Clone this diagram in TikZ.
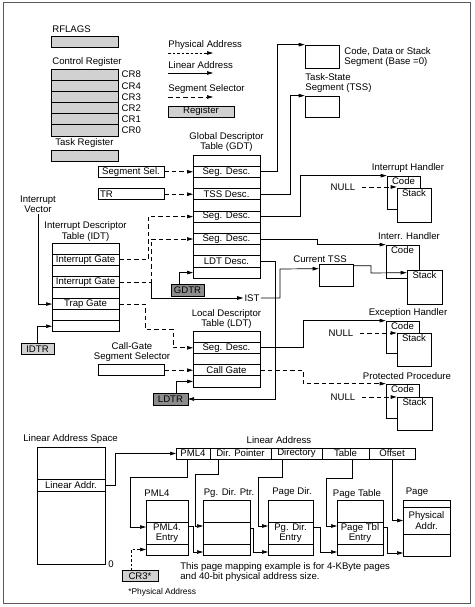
\documentclass[tikz,border=0pt]{standalone}
\usepackage{fontspec}
\setmainfont{Liberation Sans}
\usetikzlibrary{arrows.meta}

\begin{document}
\begin{tikzpicture}[x=1pt, y=-1pt, line width=0.7pt, font=\fontsize{9.6}{10.5}\selectfont,
    text node/.style={inner sep=1pt, align=center},
    row node/.style={draw, minimum width=67pt, minimum height=11.2pt, inner sep=0pt, outer sep=0pt},
    reg node/.style={draw, fill=black!18, minimum height=11pt, inner sep=0pt, outer sep=0pt},
    dark reg node/.style={draw, fill=black!45, minimum height=12pt, inner sep=0pt, outer sep=0pt},
    sel node/.style={draw, minimum width=66pt, minimum height=11pt, inner sep=0pt, outer sep=0pt},
    code node/.style={draw, fill=white, minimum width=33pt, minimum height=33pt, inner sep=0pt},
    page node/.style={draw, inner sep=0pt, outer sep=0pt, align=center},
    lin arrow/.style={-{Triangle[length=6pt,width=3.5pt]}},
    sel arrow/.style={lin arrow, dash pattern=on 4.5pt off 3pt},
    phys arrow/.style={lin arrow, dash pattern=on 2.5pt off 2pt}]
\useasboundingbox (0,0) rectangle (474,607);
\draw[black!65, line width=1pt] (3,3) rectangle (470,603);

\node[text node, anchor=west] (rflagst) at (51,29) {RFLAGS};
\node[reg node, minimum width=67pt] (rflags) at (84.5,41.5) {};
\node[text node, anchor=west] (crt) at (51,62) {Control Register};
\node[reg node, minimum width=67pt, minimum height=11.17pt, label=right:CR8] (cr8) at (84.5,74.6) {};
\node[reg node, minimum width=67pt, minimum height=11.17pt, label=right:CR4] (cr4) at (84.5,85.75) {};
\node[reg node, minimum width=67pt, minimum height=11.17pt, label=right:CR3] (cr3) at (84.5,96.9) {};
\node[reg node, minimum width=67pt, minimum height=11.17pt, label=right:CR2] (cr2) at (84.5,108.1) {};
\node[reg node, minimum width=67pt, minimum height=11.17pt, label=right:CR1] (cr1) at (84.5,119.25) {};
\node[reg node, minimum width=67pt, minimum height=11.17pt, label=right:CR0] (cr0) at (84.5,130.4) {};
\node[text node, anchor=west] (trt) at (54,143) {Task Register};
\node[reg node, minimum width=67pt] (treg) at (84.5,155.5) {};

\node[text node, anchor=west] (physt) at (167,45) {Physical Address};
\coordinate (phys a) at (168,53);
\coordinate (phys b) at (213,53);
\draw[phys arrow] (phys a) -- (phys b);
\node[text node, anchor=west] (lint) at (167,65) {Linear Address};
\coordinate (lin a) at (168,73);
\coordinate (lin b) at (213,73);
\draw[lin arrow] (lin a) -- (lin b);
\node[text node, anchor=west] (selt) at (167,89) {Segment Selector};
\coordinate (sel a) at (168,97);
\coordinate (sel b) at (213,97);
\draw[sel arrow] (sel a) -- (sel b);
\node[reg node, minimum width=66pt] (regkey) at (201,111.5) {Register};

\node[draw, minimum width=34pt, minimum height=23pt, inner sep=0pt] (cds) at (322,56.5) {};
\node[text node, anchor=west, align=left] (cdst) at (343,57) {Code, Data or Stack\\Segment (Base =0)};
\node[text node, anchor=west, align=left] (tsst) at (304,83) {Task-State\\Segment (TSS)};
\node[draw, minimum width=34pt, minimum height=21pt, inner sep=0pt] (tss) at (322,106.5) {};

\node[text node] (gdtt) at (226.5,142) {Global Descriptor\\Table (GDT)};
\node[row node] (gdt1) at (226.5,160.6) {};
\node[row node] (gdt2) at (226.5,171.8) {Seg. Desc.};
\node[row node] (gdt3) at (226.5,183) {};
\node[row node] (gdt4) at (226.5,194.2) {TSS Desc.};
\node[row node] (gdt5) at (226.5,205.4) {};
\node[row node] (gdt6) at (226.5,216.6) {Seg. Desc.};
\node[row node] (gdt7) at (226.5,227.8) {};
\node[row node] (gdt8) at (226.5,239) {Seg. Desc.};
\node[row node] (gdt9) at (226.5,250.2) {};
\node[row node] (gdt10) at (226.5,261.4) {LDT Desc.};
\node[row node] (gdt11) at (226.5,272.6) {};
\node[dark reg node, minimum width=33pt] (gdtr) at (187.5,290) {GDTR};

\node[sel node] (segsel) at (131,171.8) {Segment Sel.};
\node[sel node, text width=62pt, align=left] (trsel) at (131,194.2) {TR};

\node[text node] (ivec) at (38,204) {Interrupt\\Vector};
\node[text node] (idtt) at (85.5,231.5) {Interrupt Descriptor\\Table (IDT)};
\node[row node, minimum height=11.1pt] (idt1) at (85.5,248.55) {};
\node[row node, minimum height=11.1pt] (idt2) at (85.5,259.65) {Interrupt Gate};
\node[row node, minimum height=11.1pt] (idt3) at (85.5,270.75) {};
\node[row node, minimum height=11.1pt] (idt4) at (85.5,281.85) {Interrupt Gate};
\node[row node, minimum height=11.1pt] (idt5) at (85.5,292.95) {};
\node[row node, minimum height=11.1pt] (idt6) at (85.5,304.05) {Trap Gate};
\node[row node, minimum height=11.1pt] (idt7) at (85.5,315.15) {};
\node[row node, minimum height=11.1pt] (idt8) at (85.5,326.25) {};
\node[reg node, minimum width=33pt] (idtr) at (37.5,349) {IDTR};

\node[text node] (ist) at (252,298) {IST};
\node[text node] (curtsst) at (320,259) {Current TSS};
\node[draw, minimum width=34pt, minimum height=22pt, inner sep=0pt] (curtss) at (336,275) {};

\node[text node] (ldtt) at (226.5,319) {Local Descriptor\\Table (LDT)};
\node[row node] (ldt1) at (226.5,336.6) {};
\node[row node] (ldt2) at (226.5,347.8) {Seg. Desc.};
\node[row node] (ldt3) at (226.5,359) {};
\node[row node] (ldt4) at (226.5,370.2) {Call Gate};
\node[row node] (ldt5) at (226.5,381.4) {};
\node[dark reg node, minimum width=35pt] (ldtr) at (170.5,399) {LDTR};
\node[text node] (cgselt) at (132,352) {Call-Gate\\Segment Selector};
\node[sel node] (cgsel) at (131,370.2) {};

\node[text node] (h1t) at (408,168) {Interrupt Handler};
\node[code node, label={[anchor=north, inner sep=1.5pt]north:Code}] (h1code) at (403.5,192.5) {};
\node[code node, minimum width=34pt, minimum height=34pt, label={[anchor=north, inner sep=1.5pt]north:Stack}] (h1stack) at (414,205) {};
\node[text node] (null1) at (343,187) {NULL};

\node[text node] (h2t) at (409,236) {Interr. Handler};
\node[code node, label={[anchor=north, inner sep=1.5pt]north:Code}] (h2code) at (402.5,261.5) {};
\node[code node, minimum width=35pt, minimum height=34pt, label={[anchor=north, inner sep=1.5pt]north:Stack}] (h2stack) at (424.5,287) {};

\node[text node] (h3t) at (408,313) {Exception Handler};
\node[code node, minimum height=32pt, label={[anchor=north, inner sep=1.5pt]north:Code}] (h3code) at (402.5,337) {};
\node[code node, minimum width=34pt, label={[anchor=north, inner sep=1.5pt]north:Stack}] (h3stack) at (414,349.5) {};
\node[text node] (null3) at (341,333) {NULL};

\node[text node] (h4t) at (407,376) {Protected Procedure};
\node[code node, minimum height=34pt, label={[anchor=north, inner sep=1.5pt]north:Code}] (h4code) at (402.5,401) {};
\node[code node, minimum width=35pt, label={[anchor=north, inner sep=1.5pt]north:Stack}] (h4stack) at (414.5,413.5) {};
\node[text node] (null4) at (343,397) {NULL};

\draw[lin arrow] (gdt2.east) -- ++(17,0) |- (cds.north west);
\draw[lin arrow] (gdt4.east) -- ++(30,0) |- (tss.north west);
\draw[lin arrow] (gdt6.east) -- ++(40,0) |- (h1code.north west);
\draw[lin arrow] (gdt8.east) -- ++(57,0) |- (h2code.north west);
\draw[lin arrow] (gdt10.east) -- ++(15,0) |- (ldtr.east);
\draw[lin arrow] (ist.east) -| (280,269) -- ([yshift=-5pt]curtss.north west);
\draw[lin arrow] ([yshift=-2pt]curtss.north east) -| (371,273) -- ([yshift=-3pt]h2stack.north west);
\draw[sel arrow] ([xshift=5pt]null1.east) -- (null1.east -| h1stack.west);
\draw[sel arrow] ([xshift=5pt]null3.east) -- (null3.east -| h3stack.west);
\draw[sel arrow] ([xshift=5pt]null4.east) -- (null4.east -| h4stack.west);
\draw[sel arrow] (segsel) -- (gdt2);
\draw[sel arrow] (trsel) -- (gdt4);
\draw[sel arrow] (idt2.east) -- ++(29,0) |- (gdt6.west);
\draw[sel arrow] (idt4.east) -- ++(32,0) |- (gdt8.west);
\draw[lin arrow] ([xshift=32pt]idt4.east) |- (ist.west);
\draw[sel arrow] (idt6.east) -| (145,329) -| (173,347.8) -- (ldt2.west);
\draw[sel arrow] (cgsel) -- (ldt4);
\draw[lin arrow] (ldt2.east) -- ++(43,0) |- (h3code.north west);
\draw[sel arrow] (ldt4.east) -- ++(43,0) |- (h4code.north west);
\draw[lin arrow] ([xshift=-8.5pt]gdtr.north) |- (gdt11.west);
\draw[lin arrow] ([xshift=5.5pt]ldtr.north) |- (ldt5.west);
\draw[lin arrow] (idtr.north) |- (idt8.west);
\draw[lin arrow] (ivec.south) |- (idt6.west);

\node[text node, anchor=west] (last) at (22,439) {Linear Address Space};
\node[page node, minimum width=68pt, minimum height=32pt] (las1) at (71,463) {};
\node[page node, minimum width=68pt, minimum height=12pt] (las2) at (71,485) {Linear Addr.};
\node[page node, minimum width=68pt, minimum height=73pt] (las3) at (71,527.5) {};
\node[text node] (zero) at (111,564) {0};

\node[text node] (lat) at (279,440) {Linear Address};
\node[page node, minimum width=34pt, minimum height=11pt] (la1) at (193,453.5) {PML4};
\node[page node, minimum width=61pt, minimum height=11pt] (la2) at (240.5,453.5) {Dir. Pointer};
\node[page node, minimum width=51pt, minimum height=11pt] (la3) at (296.5,453.5) {Directory};
\node[page node, minimum width=47pt, minimum height=11pt] (la4) at (345.5,453.5) {Table};
\node[page node, minimum width=46pt, minimum height=11pt] (la5) at (392,453.5) {Offset};

\node[text node] (pat) at (157,493) {PML4};
\node[page node, minimum width=42pt, minimum height=22pt] (pa1) at (167,511) {};
\node[page node, minimum width=42pt, minimum height=22pt] (pa2) at (167,533) {PML4.\\Entry};
\node[page node, minimum width=42pt, minimum height=11pt] (pa3) at (167,549.5) {};

\node[text node] (pbt) at (229,493) {Pg. Dir. Ptr.};
\node[page node, minimum width=47pt, minimum height=22pt] (pb1) at (226.5,511) {};
\node[page node, minimum width=47pt, minimum height=22pt] (pb2) at (226.5,533) {};
\node[page node, minimum width=47pt, minimum height=11pt] (pb3) at (226.5,549.5) {};

\node[text node] (pct) at (292,492) {Page Dir.};
\node[page node, minimum width=45pt, minimum height=22pt] (pc1) at (290.5,511) {};
\node[page node, minimum width=45pt, minimum height=22pt] (pc2) at (290.5,533) {Pg. Dir.\\Entry};
\node[page node, minimum width=45pt, minimum height=11pt] (pc3) at (290.5,549.5) {};

\node[text node] (pdt) at (357,494) {Page Table};
\node[page node, minimum width=46pt, minimum height=22pt] (pd1) at (360,511) {};
\node[page node, minimum width=46pt, minimum height=22pt] (pd2) at (360,533) {Page Tbl\\Entry};
\node[page node, minimum width=46pt, minimum height=11pt] (pd3) at (360,549.5) {};

\node[text node] (pet) at (417,492) {Page};
\node[page node, minimum width=47pt, minimum height=7pt] (pe1) at (426.5,503.5) {};
\node[page node, minimum width=47pt, minimum height=27pt] (pe2) at (426.5,520.5) {Physical\\Addr.};
\node[page node, minimum width=47pt, minimum height=22pt] (pe3) at (426.5,545) {};

\node[reg node, minimum width=36pt] (cr3b) at (140,576) {CR3*};
\node[text node, anchor=west, font=\fontsize{8.4}{10}\selectfont] (physnote) at (127,592) {*Physical Address};
\node[text node, anchor=north west, align=left] (note) at (179,561) {This page mapping example is for 4-KByte pages\\and 40-bit physical address size.};

\draw[lin arrow] (las2.east) -- ++(10,0) |- (la1.west);
\draw[lin arrow] ([xshift=11pt]la1.south west) |- (130,477) |- ([yshift=-5pt]pa2.north west);
\draw[lin arrow] ([xshift=8pt]la2.south west) |- (195,474) |- ([yshift=-4pt]pb2.north west);
\draw[lin arrow] ([xshift=11pt]la3.south west) |- (258,477) |- ([yshift=-4pt]pc2.north west);
\draw[lin arrow] ([xshift=30pt]la4.south west) |- (326,478) |- ([yshift=-4pt]pd2.north west);
\draw[lin arrow] ([xshift=23pt]la5.south west) |- (pe2.west);
\draw[lin arrow] ([yshift=-4pt]pa2.north east) -- ++(5,0) |- ([yshift=3pt]pb3.south west);
\draw[lin arrow] ([yshift=-6pt]pb2.north east) -- ++(3,0) |- ([yshift=3pt]pc3.south west);
\draw[lin arrow] ([yshift=-5pt]pc2.north east) -- ++(7,0) |- ([yshift=3pt]pd3.south west);
\draw[lin arrow] ([yshift=-5pt]pd2.north east) -- ++(4,0) |- ([yshift=3pt]pe3.south west);
\draw[phys arrow] ([xshift=-9pt]cr3b.north) |- (pa3.west);
\end{tikzpicture}
\end{document}
